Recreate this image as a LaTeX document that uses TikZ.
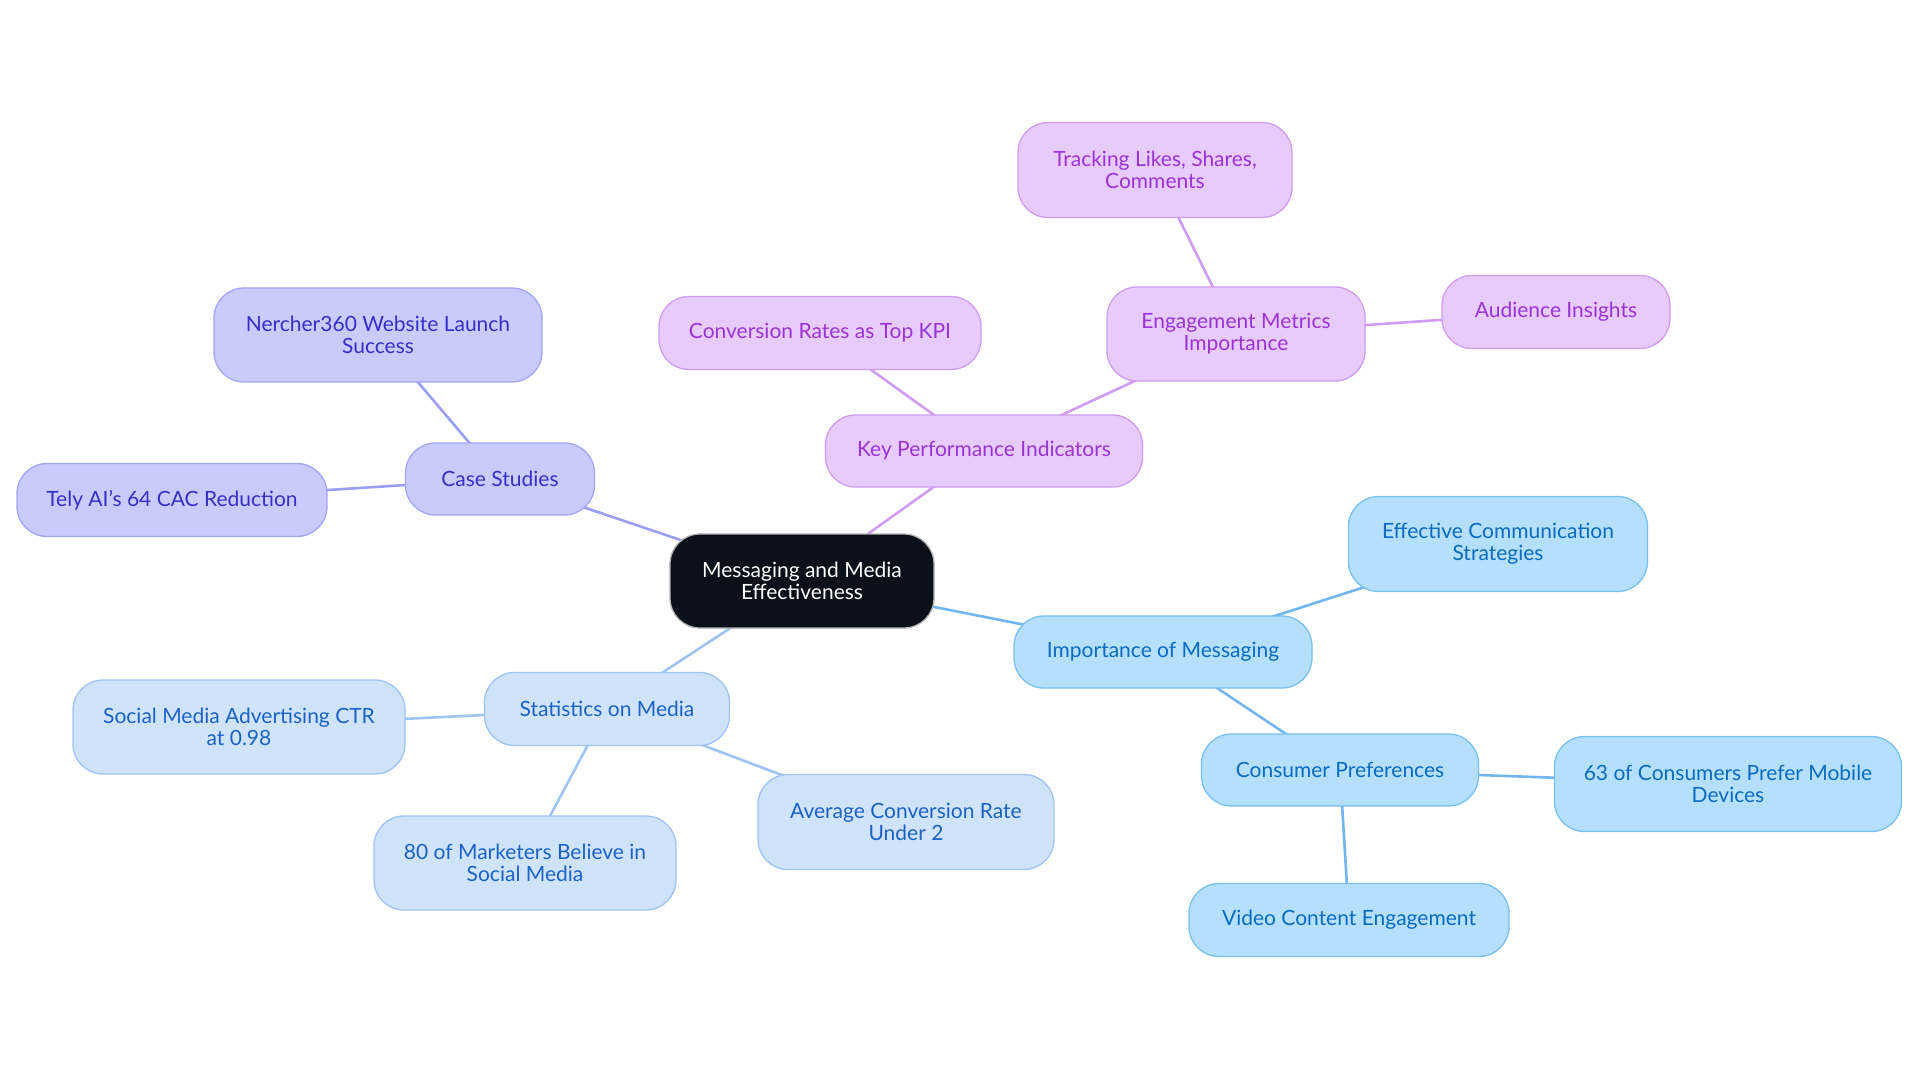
\documentclass[tikz,border=0pt]{standalone}
\usepackage{fontspec}
\setmainfont{Lato}
\usetikzlibrary{arrows,backgrounds}

\definecolor{rootfill}{HTML}{0B111A}
\definecolor{casefill}{HTML}{C9CBFD}
\definecolor{casedraw}{HTML}{A3A6F4}
\definecolor{casetext}{HTML}{3530C8}
\definecolor{kpifill}{HTML}{E8CBFD}
\definecolor{kpidraw}{HTML}{D09CF2}
\definecolor{kpitext}{HTML}{9A33D6}
\definecolor{msgfill}{HTML}{B4DFFD}
\definecolor{msgdraw}{HTML}{78C0F0}
\definecolor{msgtext}{HTML}{0B6BC0}
\definecolor{statfill}{HTML}{CFE3FB}
\definecolor{statdraw}{HTML}{9DC4F2}
\definecolor{stattext}{HTML}{1C62C6}

\tikzset{
  box/.style={rounded corners=30pt, align=center, line width=1.3pt,
    font=\fontsize{21}{22}\selectfont, inner sep=0pt},
  rootbox/.style={box, fill=rootfill, draw=gray!60, text=white},
  casebox/.style={box, fill=casefill, draw=casedraw, text=casetext},
  kpibox/.style={box, fill=kpifill, draw=kpidraw, text=kpitext},
  msgbox/.style={box, fill=msgfill, draw=msgdraw, text=msgtext},
  statbox/.style={box, fill=statfill, draw=statdraw, text=stattext},
  caseline/.style={draw=casedraw!95!blue, line width=2.6pt},
  kpiline/.style={draw=kpidraw, line width=2.6pt},
  msgline/.style={draw=msgdraw!95!blue, line width=2.6pt},
  statline/.style={draw=statdraw, line width=2.6pt}
}

\begin{document}
\begin{tikzpicture}[x=1pt,y=-1pt]
\useasboundingbox (0,0) rectangle (1920,1083);

\node[rootbox, minimum width=264pt, minimum height=94pt] (v1) at (802,581) {Messaging and Media\\Effectiveness};

\node[casebox, minimum width=189pt, minimum height=72pt] (v2) at (500,479) {Case Studies};
\node[casebox, minimum width=328pt, minimum height=94pt] (v3) at (378,335) {Nercher360 Website Launch\\Success};
\node[casebox, minimum width=310pt, minimum height=73pt] (v4) at (172,500) {Tely AI's 64 CAC Reduction};

\node[kpibox, minimum width=317pt, minimum height=72pt] (v5) at (984,451) {Key Performance Indicators};
\node[kpibox, minimum width=322pt, minimum height=73pt] (v6) at (820,333) {Conversion Rates as Top KPI};
\node[kpibox, minimum width=258pt, minimum height=94pt] (v7) at (1236,334) {Engagement Metrics\\Importance};
\node[kpibox, minimum width=274pt, minimum height=95pt] (v8) at (1155,170) {Tracking Likes, Shares,\\Comments};
\node[kpibox, minimum width=228pt, minimum height=73pt] (v9) at (1556,312) {Audience Insights};

\node[msgbox, minimum width=298pt, minimum height=72pt] (v10) at (1163,652) {Importance of Messaging};
\node[msgbox, minimum width=299pt, minimum height=95pt] (v11) at (1498,544) {Effective Communication\\Strategies};
\node[msgbox, minimum width=277pt, minimum height=72pt] (v12) at (1340,770) {Consumer Preferences};
\node[msgbox, minimum width=347pt, minimum height=95pt] (v13) at (1728,784) {63 of Consumers Prefer Mobile\\Devices};
\node[msgbox, minimum width=320pt, minimum height=73pt] (v14) at (1349,920) {Video Content Engagement};

\node[statbox, minimum width=245pt, minimum height=73pt] (v15) at (607,709) {Statistics on Media};
\node[statbox, minimum width=332pt, minimum height=94pt] (v16) at (239,727) {Social Media Advertising CTR\\at 0.98};
\node[statbox, minimum width=302pt, minimum height=94pt] (v17) at (525,863) {80 of Marketers Believe in\\Social Media};
\node[statbox, minimum width=296pt, minimum height=95pt] (v18) at (906,822) {Average Conversion Rate\\Under 2};

% links, behind the boxes
\begin{scope}[on background layer]
\draw [caseline] (v1.center) edge (v2.center);
\draw [caseline] (v2.center) edge (v3.center);
\draw [caseline] (v2.center) edge (v4.center);
\draw [kpiline] (v1.center) edge (v5.center);
\draw [kpiline] (v5.center) edge (v6.center);
\draw [kpiline] (v5.center) edge (v7.center);
\draw [kpiline] (v7.center) edge (v8.center);
\draw [kpiline] (v7.center) edge (v9.center);
\draw [msgline] (v1.center) edge (v10.center);
\draw [msgline] (v10.center) edge (v11.center);
\draw [msgline] (v10.center) edge (v12.center);
\draw [msgline] (v12.center) edge (v13.center);
\draw [msgline] (v12.center) edge (v14.center);
\draw [statline] (v1.center) edge (v15.center);
\draw [statline] (v15.center) edge (v16.center);
\draw [statline] (v15.center) edge (v17.center);
\draw [statline] (v15.center) edge (v18.center);
\end{scope}
\end{tikzpicture}
\end{document}
